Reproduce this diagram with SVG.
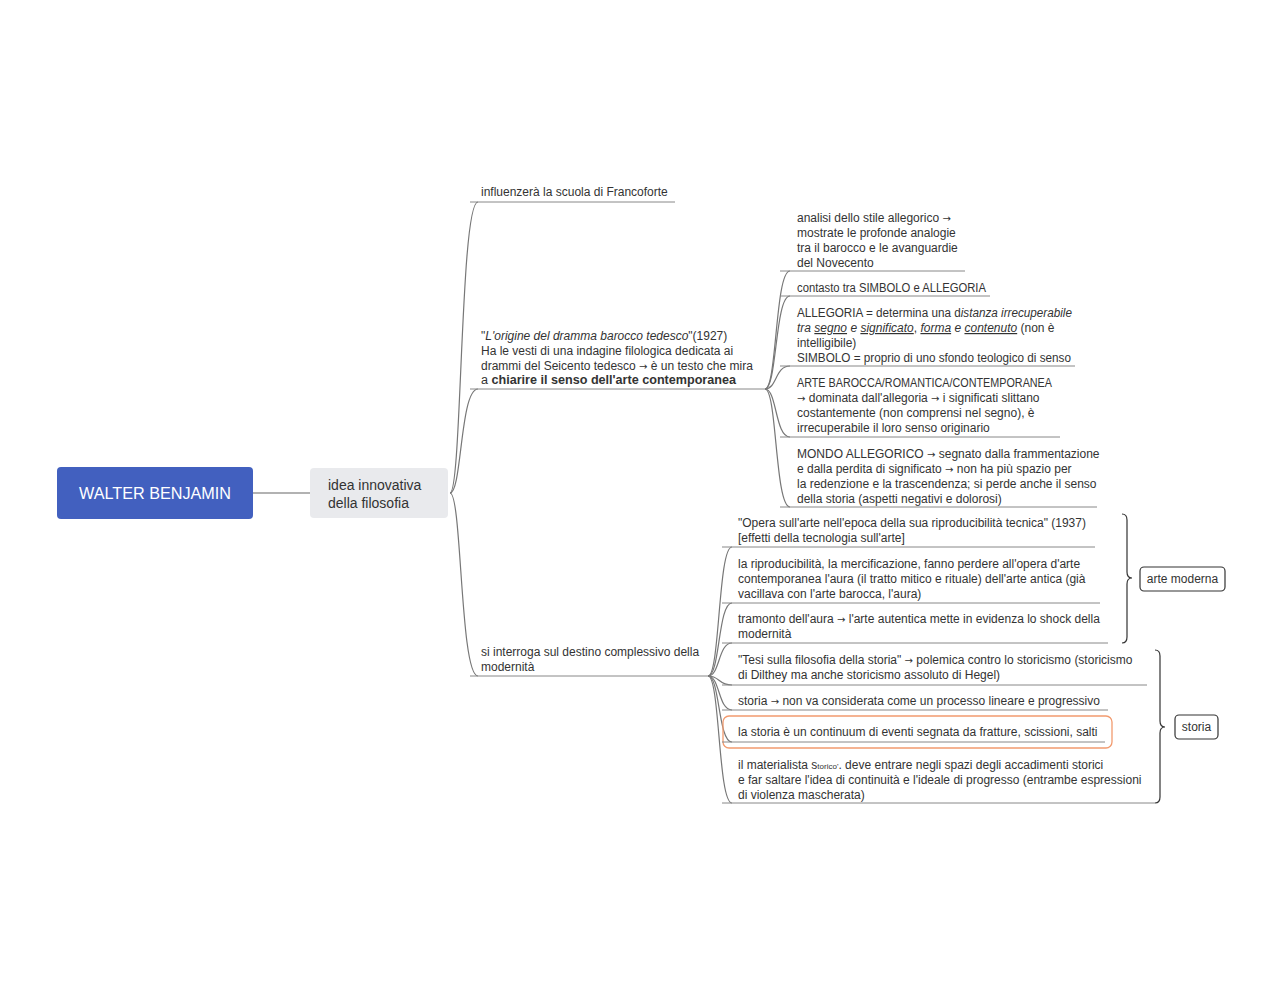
<svg xmlns="http://www.w3.org/2000/svg" width="1280" height="989" viewBox="0 0 1280 989">
<style>
  text { font-family: "Liberation Sans", Arial, sans-serif; font-size: 12px; fill: #333333; }
  .ar { font-family: "DejaVu Sans", sans-serif; font-size: 10px; }
  .ul { stroke: #888888; stroke-width: 1; fill: none; }
  .cn { stroke: #777777; stroke-width: 1.2; fill: none; }
  .it { font-style: italic; }
  .u { text-decoration: underline; }
  .b { font-weight: bold; }
  .brace { stroke: #333333; stroke-width: 1.2; fill: none; }
  .tag { fill: #ffffff; stroke: #333333; stroke-width: 1.2; }
</style>
<rect width="1280" height="989" fill="#ffffff"/>

<g id="connectors">
  <line x1="253" y1="493" x2="310" y2="493" stroke="#999999" stroke-width="1.5"/>
  <path class="cn" d="M450,493 C462,493 460,202 478,202"/>
  <path class="cn" d="M450,493 C462,493 460,389 478,389"/>
  <path class="cn" d="M450,493 C462,493 460,676 478,676"/>

  <path class="cn" d="M765,389 C777,389 775,271 790,271"/>
  <path class="cn" d="M765,389 C777,389 775,296 790,296"/>
  <path class="cn" d="M765,389 C777,389 775,366 790,366"/>
  <path class="cn" d="M765,389 C777,389 775,437 790,437"/>
  <path class="cn" d="M765,389 C777,389 775,507 790,507"/>

  <path class="cn" d="M708,676 C720,676 718,547 732,547"/>
  <path class="cn" d="M708,676 C720,676 718,603 732,603"/>
  <path class="cn" d="M708,676 C720,676 718,643 732,643"/>
  <path class="cn" d="M708,676 C720,676 718,685 732,685"/>
  <path class="cn" d="M708,676 C720,676 718,710 732,710"/>
  <path class="cn" d="M708,676 C720,676 718,742 732,742"/>
  <path class="cn" d="M708,676 C720,676 718,803 732,803"/>

  <path class="brace" d="M1122,514 q5,0 5,6 L1127,572 q0,6 5,6 q-5,0 -5,6 L1127,637 q0,6 -5,6"/>
  <path class="brace" d="M1155,650 q5,0 5,6 L1160,721 q0,6 5,6 q-5,0 -5,6 L1160,797 q0,6 -5,6"/>
</g>

<g id="root">
  <rect x="57" y="467" width="196" height="52" rx="4" fill="#4260bf"/>
  <text x="155" y="499" text-anchor="middle" style="font-size:16.5px;fill:#ffffff" textLength="152" lengthAdjust="spacingAndGlyphs">WALTER BENJAMIN</text>
</g>

<g id="idea">
  <rect x="310" y="468" width="138" height="50" rx="4" fill="#e9eaed"/>
  <text x="328" y="490" style="font-size:14px">idea innovativa</text>
  <text x="328" y="508" style="font-size:14px">della filosofia</text>
</g>

<g id="influenzera">
  <text x="481" y="196">influenzerà la scuola di Francoforte</text>
  <line class="ul" x1="470" y1="202" x2="675" y2="202"/>
</g>

<g id="origine">
  <text x="481" y="340">"<tspan class="it">L'origine del dramma barocco tedesco</tspan>"(1927)</text>
  <text x="481" y="355">Ha le vesti di una indagine filologica dedicata ai</text>
  <text x="481" y="370">drammi del Seicento tedesco <tspan class="ar">→</tspan> è un testo che mira</text>
  <text x="481" y="384" textLength="255" lengthAdjust="spacingAndGlyphs">a <tspan class="b">chiarire il senso dell'arte contemporanea</tspan></text>
  <line class="ul" x1="470" y1="389" x2="765" y2="389"/>
</g>

<g id="interroga">
  <text x="481" y="656">si interroga sul destino complessivo della</text>
  <text x="481" y="671">modernità</text>
  <line class="ul" x1="470" y1="676" x2="708" y2="676"/>
</g>

<g id="analisi">
  <text x="797" y="222">analisi dello stile allegorico <tspan class="ar">→</tspan></text>
  <text x="797" y="237">mostrate le profonde analogie</text>
  <text x="797" y="252">tra il barocco e le avanguardie</text>
  <text x="797" y="267">del Novecento</text>
  <line class="ul" x1="780" y1="271" x2="965" y2="271"/>
</g>

<g id="contasto">
  <text x="797" y="292" textLength="189" lengthAdjust="spacingAndGlyphs">contasto tra SIMBOLO e ALLEGORIA</text>
  <line class="ul" x1="780" y1="296" x2="990" y2="296"/>
</g>

<g id="allegoria">
  <text x="797" y="317" textLength="275" lengthAdjust="spacingAndGlyphs">ALLEGORIA = determina una d<tspan class="it">istanza irrecuperabile</tspan></text>
  <text x="797" y="332"><tspan class="it">tra </tspan><tspan class="it u">segno</tspan><tspan class="it"> e </tspan><tspan class="it u">significato</tspan>, <tspan class="it u">forma</tspan><tspan class="it"> e </tspan><tspan class="it u">contenuto</tspan> (non è</text>
  <text x="797" y="347">intelligibile)</text>
  <text x="797" y="362" textLength="274" lengthAdjust="spacingAndGlyphs">SIMBOLO = proprio di uno sfondo teologico di senso</text>
  <line class="ul" x1="780" y1="366" x2="1075" y2="366"/>
</g>

<g id="arte">
  <text x="797" y="387" textLength="255" lengthAdjust="spacingAndGlyphs">ARTE BAROCCA/ROMANTICA/CONTEMPORANEA</text>
  <text x="797" y="402"><tspan class="ar">→</tspan> dominata dall'allegoria <tspan class="ar">→</tspan> i significati slittano</text>
  <text x="797" y="417">costantemente (non comprensi nel segno), è</text>
  <text x="797" y="432">irrecuperabile il loro senso originario</text>
  <line class="ul" x1="780" y1="437" x2="1060" y2="437"/>
</g>

<g id="mondo">
  <text x="797" y="458">MONDO ALLEGORICO <tspan class="ar">→</tspan> segnato dalla frammentazione</text>
  <text x="797" y="473">e dalla perdita di significato <tspan class="ar">→</tspan> non ha più spazio per</text>
  <text x="797" y="488">la redenzione e la trascendenza; si perde anche il senso</text>
  <text x="797" y="503">della storia (aspetti negativi e dolorosi)</text>
  <line class="ul" x1="780" y1="507" x2="1097" y2="507"/>
</g>

<g id="opera">
  <text x="738" y="527">"Opera sull'arte nell'epoca della sua riproducibilità tecnica" (1937)</text>
  <text x="738" y="542">[effetti della tecnologia sull'arte]</text>
  <line class="ul" x1="722" y1="547" x2="1095" y2="547"/>
</g>

<g id="riproducibilita">
  <text x="738" y="568">la riproducibilità, la mercificazione, fanno perdere all'opera d'arte</text>
  <text x="738" y="583">contemporanea l'aura (il tratto mitico e rituale) dell'arte antica (già</text>
  <text x="738" y="598">vacillava con l'arte barocca, l'aura)</text>
  <line class="ul" x1="722" y1="603" x2="1100" y2="603"/>
</g>

<g id="tramonto">
  <text x="738" y="623">tramonto dell'aura <tspan class="ar">→</tspan> l'arte autentica mette in evidenza lo shock della</text>
  <text x="738" y="638">modernità</text>
  <line class="ul" x1="722" y1="643" x2="1108" y2="643"/>
</g>

<g id="tesi">
  <text x="738" y="664">"Tesi sulla filosofia della storia" <tspan class="ar">→</tspan> polemica contro lo storicismo (storicismo</text>
  <text x="738" y="679">di Dilthey ma anche storicismo assoluto di Hegel)</text>
  <line class="ul" x1="722" y1="685" x2="1147" y2="685"/>
</g>

<g id="storia-lineare">
  <text x="738" y="705">storia <tspan class="ar">→</tspan> non va considerata come un processo lineare e progressivo</text>
  <line class="ul" x1="722" y1="710" x2="1108" y2="710"/>
</g>

<g id="storia-continuum">
  <rect x="723" y="716" width="389" height="32" rx="6" fill="none" stroke="#f29b6f" stroke-width="1.3"/>
  <text x="738" y="736">la storia è un continuum di eventi segnata da fratture, scissioni, salti</text>
  <line class="ul" x1="722" y1="742" x2="1105" y2="742"/>
</g>

<g id="materialista">
  <text x="738" y="769">il materialista s<tspan style="font-size:8px">torico'</tspan>. deve entrare negli spazi degli accadimenti storici</text>
  <text x="738" y="784">e far saltare l'idea di continuità e l'ideale di progresso (entrambe espressioni</text>
  <text x="738" y="799">di violenza mascherata)</text>
  <line class="ul" x1="722" y1="803" x2="1155" y2="803"/>
</g>

<g id="arte-moderna">
  <rect class="tag" x="1140" y="567" width="85" height="24" rx="4"/>
  <text x="1182.5" y="583" text-anchor="middle">arte moderna</text>
</g>

<g id="storia">
  <rect class="tag" x="1175" y="715" width="43" height="24" rx="4"/>
  <text x="1196.5" y="731" text-anchor="middle">storia</text>
</g>
</svg>
